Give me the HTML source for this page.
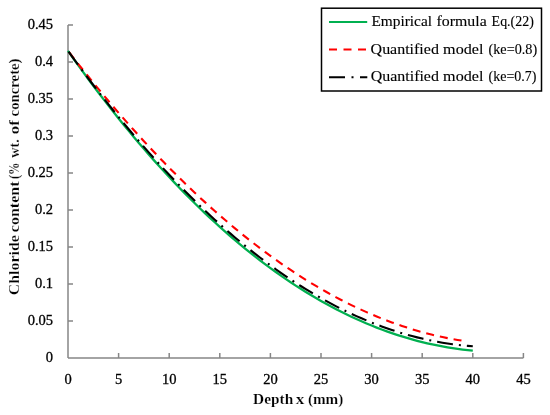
<!DOCTYPE html>
<html><head><meta charset="utf-8"><style>
html,body{margin:0;padding:0;background:#fff;}
svg{display:block;}
text{font-family:"Liberation Serif",serif;font-size:14.5px;fill:#000;}
.r{stroke:#000;stroke-width:0.3px;}
.l{stroke:#000;stroke-width:0.12px;}
.b{font-weight:bold;stroke:#fff;stroke-width:0.2px;paint-order:normal;}
</style></head><body>
<svg width="550" height="415" viewBox="0 0 550 415">
<rect width="550" height="415" fill="#fff"/>
<g stroke="#868686" stroke-width="1.5" fill="none">
<line x1="68.0" y1="25" x2="68.0" y2="358.0"/>
<line x1="68.0" y1="358.0" x2="523.4" y2="358.0"/>
<line x1="68.0" y1="321.0" x2="73.0" y2="321.0"/><line x1="118.6" y1="358.0" x2="118.6" y2="353.0"/><line x1="68.0" y1="284.0" x2="73.0" y2="284.0"/><line x1="169.2" y1="358.0" x2="169.2" y2="353.0"/><line x1="68.0" y1="247.0" x2="73.0" y2="247.0"/><line x1="219.8" y1="358.0" x2="219.8" y2="353.0"/><line x1="68.0" y1="210.0" x2="73.0" y2="210.0"/><line x1="270.4" y1="358.0" x2="270.4" y2="353.0"/><line x1="68.0" y1="173.0" x2="73.0" y2="173.0"/><line x1="321.0" y1="358.0" x2="321.0" y2="353.0"/><line x1="68.0" y1="136.0" x2="73.0" y2="136.0"/><line x1="371.6" y1="358.0" x2="371.6" y2="353.0"/><line x1="68.0" y1="99.0" x2="73.0" y2="99.0"/><line x1="422.2" y1="358.0" x2="422.2" y2="353.0"/><line x1="68.0" y1="62.0" x2="73.0" y2="62.0"/><line x1="472.8" y1="358.0" x2="472.8" y2="353.0"/><line x1="68.0" y1="25.0" x2="73.0" y2="25.0"/><line x1="523.4" y1="358.0" x2="523.4" y2="353.0"/>
</g>
<g class="r"><text x="53" y="362.4" text-anchor="end">0</text><text x="53" y="325.4" text-anchor="end">0.05</text><text x="53" y="288.4" text-anchor="end">0.1</text><text x="53" y="251.4" text-anchor="end">0.15</text><text x="53" y="214.4" text-anchor="end">0.2</text><text x="53" y="177.4" text-anchor="end">0.25</text><text x="53" y="140.4" text-anchor="end">0.3</text><text x="53" y="103.4" text-anchor="end">0.35</text><text x="53" y="66.4" text-anchor="end">0.4</text><text x="53" y="29.4" text-anchor="end">0.45</text></g>
<g class="r"><text x="68.0" y="383.8" text-anchor="middle">0</text><text x="118.6" y="383.8" text-anchor="middle">5</text><text x="169.2" y="383.8" text-anchor="middle">10</text><text x="219.8" y="383.8" text-anchor="middle">15</text><text x="270.4" y="383.8" text-anchor="middle">20</text><text x="321.0" y="383.8" text-anchor="middle">25</text><text x="371.6" y="383.8" text-anchor="middle">30</text><text x="422.2" y="383.8" text-anchor="middle">35</text><text x="472.8" y="383.8" text-anchor="middle">40</text><text x="523.4" y="383.8" text-anchor="middle">45</text></g>
<text class="b" x="253.10" y="403.6" textLength="40.10" lengthAdjust="spacingAndGlyphs">Depth</text><text class="b" x="295.80" y="403.6" textLength="8.60" lengthAdjust="spacingAndGlyphs">x</text><text class="b" x="307.90" y="403.6" textLength="35.40" lengthAdjust="spacingAndGlyphs">(mm)</text>
<g transform="translate(18.5,0) rotate(-90)"><text class="b" x="-295.20" y="0" textLength="60.00" lengthAdjust="spacingAndGlyphs">Chloride</text><text class="b" x="-232.20" y="0" textLength="50.70" lengthAdjust="spacingAndGlyphs">content</text><text class="b" x="-179.00" y="0" textLength="16.50" lengthAdjust="spacingAndGlyphs">(%</text><text class="b" x="-157.80" y="0" textLength="18.50" lengthAdjust="spacingAndGlyphs">wt.</text><text class="b" x="-134.20" y="0" textLength="14.00" lengthAdjust="spacingAndGlyphs">of</text><text class="b" x="-116.40" y="0" textLength="57.90" lengthAdjust="spacingAndGlyphs">concrete)</text></g>
<g fill="none" stroke-width="2.3" stroke-linejoin="round">
<path d="M68.00,50.90 L73.06,58.06 L78.12,65.13 L83.18,72.10 L88.24,78.99 L93.30,85.79 L98.36,92.49 L103.42,99.11 L108.48,105.64 L113.54,112.07 L118.60,118.42 L123.66,124.68 L128.72,130.85 L133.78,136.93 L138.84,142.92 L143.90,148.83 L148.96,154.64 L154.02,160.37 L159.08,166.01 L164.14,171.56 L169.20,177.02 L174.26,182.40 L179.32,187.69 L184.38,192.89 L189.44,198.00 L194.50,203.03 L199.56,207.97 L204.62,212.82 L209.68,217.59 L214.74,222.27 L219.80,226.87 L224.86,231.38 L229.92,235.80 L234.98,240.14 L240.04,244.39 L245.10,248.56 L250.16,252.65 L255.22,256.64 L260.28,260.56 L265.34,264.39 L270.40,268.13 L275.46,271.79 L280.52,275.37 L285.58,278.86 L290.64,282.27 L295.70,285.59 L300.76,288.83 L305.82,291.99 L310.88,295.07 L315.94,298.06 L321.00,300.97 L326.06,303.80 L331.12,306.54 L336.18,309.21 L341.24,311.79 L346.30,314.29 L351.36,316.70 L356.42,319.04 L361.48,321.29 L366.54,323.47 L371.60,325.56 L376.66,327.57 L381.72,329.50 L386.78,331.35 L391.84,333.12 L396.90,334.81 L401.96,336.42 L407.02,337.95 L412.08,339.40 L417.14,340.77 L422.20,342.06 L427.26,343.27 L432.32,344.40 L437.38,345.46 L442.44,346.43 L447.50,347.33 L452.56,348.15 L457.62,348.89 L462.68,349.55 L467.74,350.13 L472.80,350.64" stroke="#00b050"/>
<path d="M68.00,50.90 L73.06,57.41 L78.12,63.84 L83.18,70.21 L88.24,76.51 L93.30,82.74 L98.36,88.90 L103.42,94.99 L108.48,101.01 L113.54,106.96 L118.60,112.84 L123.66,118.64 L128.72,124.38 L133.78,130.05 L138.84,135.65 L143.90,141.17 L148.96,146.62 L154.02,152.01 L159.08,157.32 L164.14,162.56 L169.20,167.73 L174.26,172.82 L179.32,177.85 L184.38,182.80 L189.44,187.68 L194.50,192.49 L199.56,197.23 L204.62,201.89 L209.68,206.49 L214.74,211.00 L219.80,215.45 L224.86,219.82 L229.92,224.12 L234.98,228.35 L240.04,232.50 L245.10,236.58 L250.16,240.59 L255.22,244.52 L260.28,248.38 L265.34,252.17 L270.40,255.88 L275.46,259.52 L280.52,263.08 L285.58,266.57 L290.64,269.98 L295.70,273.32 L300.76,276.58 L305.82,279.77 L310.88,282.89 L315.94,285.93 L321.00,288.89 L326.06,291.78 L331.12,294.59 L336.18,297.33 L341.24,299.99 L346.30,302.57 L351.36,305.08 L356.42,307.51 L361.48,309.87 L366.54,312.15 L371.60,314.35 L376.66,316.48 L381.72,318.53 L386.78,320.50 L391.84,322.40 L396.90,324.22 L401.96,325.96 L407.02,327.62 L412.08,329.21 L417.14,330.72 L422.20,332.15 L427.26,333.50 L432.32,334.78 L437.38,335.97 L442.44,337.09 L447.50,338.13 L452.56,339.09 L457.62,339.97 L462.68,340.78" stroke-width="2.1" stroke="#ff0000" stroke-dasharray="8 6" stroke-dashoffset="-2"/>
<path d="M68.00,50.90 L73.06,57.88 L78.12,64.78 L83.18,71.60 L88.24,78.34 L93.30,84.99 L98.36,91.55 L103.42,98.04 L108.48,104.44 L113.54,110.76 L118.60,116.99 L123.66,123.15 L128.72,129.22 L133.78,135.20 L138.84,141.10 L143.90,146.92 L148.96,152.66 L154.02,158.31 L159.08,163.88 L164.14,169.37 L169.20,174.77 L174.26,180.09 L179.32,185.33 L184.38,190.48 L189.44,195.55 L194.50,200.54 L199.56,205.44 L204.62,210.26 L209.68,215.00 L214.74,219.65 L219.80,224.22 L224.86,228.71 L229.92,233.11 L234.98,237.43 L240.04,241.67 L245.10,245.82 L250.16,249.89 L255.22,253.88 L260.28,257.78 L265.34,261.60 L270.40,265.34 L275.46,268.99 L280.52,272.56 L285.58,276.04 L290.64,279.45 L295.70,282.77 L300.76,286.00 L305.82,289.15 L310.88,292.22 L315.94,295.21 L321.00,298.11 L326.06,300.93 L331.12,303.66 L336.18,306.31 L341.24,308.88 L346.30,311.36 L351.36,313.76 L356.42,316.08 L361.48,318.31 L366.54,320.46 L371.60,322.53 L376.66,324.51 L381.72,326.41 L386.78,328.23 L391.84,329.96 L396.90,331.61 L401.96,333.17 L407.02,334.65 L412.08,336.05 L417.14,337.36 L422.20,338.59 L427.26,339.74 L432.32,340.80 L437.38,341.78 L442.44,342.67 L447.50,343.48 L452.56,344.21 L457.62,344.86 L462.68,345.42 L467.74,345.89 L472.80,346.28" stroke-width="2.1" stroke="#000" stroke-dasharray="16 6 2 6" stroke-dashoffset="-1"/>
</g>
<rect x="321.5" y="8.2" width="220" height="82.8" fill="#fff" stroke="#000" stroke-width="1.5"/>
<g stroke-width="2">
<line x1="329" y1="21.9" x2="367.2" y2="21.9" stroke="#00b050"/>
<line x1="329" y1="49.5" x2="366" y2="49.5" stroke="#ff0000" stroke-dasharray="8 6.5"/>
<line x1="329" y1="77.3" x2="367.3" y2="77.3" stroke="#000" stroke-dasharray="16 6.5 2 6.5"/>
</g>
<text class="l" x="371.40" y="25.9" textLength="60.60" lengthAdjust="spacingAndGlyphs">Empirical</text>
<text class="l" x="436.60" y="25.9" textLength="50.10" lengthAdjust="spacingAndGlyphs">formula</text>
<text class="l" x="491.60" y="25.9" textLength="42.30" lengthAdjust="spacingAndGlyphs">Eq.(22)</text>
<text class="l" x="370.60" y="53.8" textLength="68.30" lengthAdjust="spacingAndGlyphs">Quantified</text>
<text class="l" x="443.10" y="53.8" textLength="40.30" lengthAdjust="spacingAndGlyphs">model</text>
<text class="l" x="488.50" y="53.8" textLength="48.70" lengthAdjust="spacingAndGlyphs">(ke=0.8)</text>
<text class="l" x="370.80" y="80.8" textLength="68.10" lengthAdjust="spacingAndGlyphs">Quantified</text>
<text class="l" x="443.10" y="80.8" textLength="40.30" lengthAdjust="spacingAndGlyphs">model</text>
<text class="l" x="488.50" y="80.8" textLength="48.00" lengthAdjust="spacingAndGlyphs">(ke=0.7)</text>
</svg>
</body></html>
